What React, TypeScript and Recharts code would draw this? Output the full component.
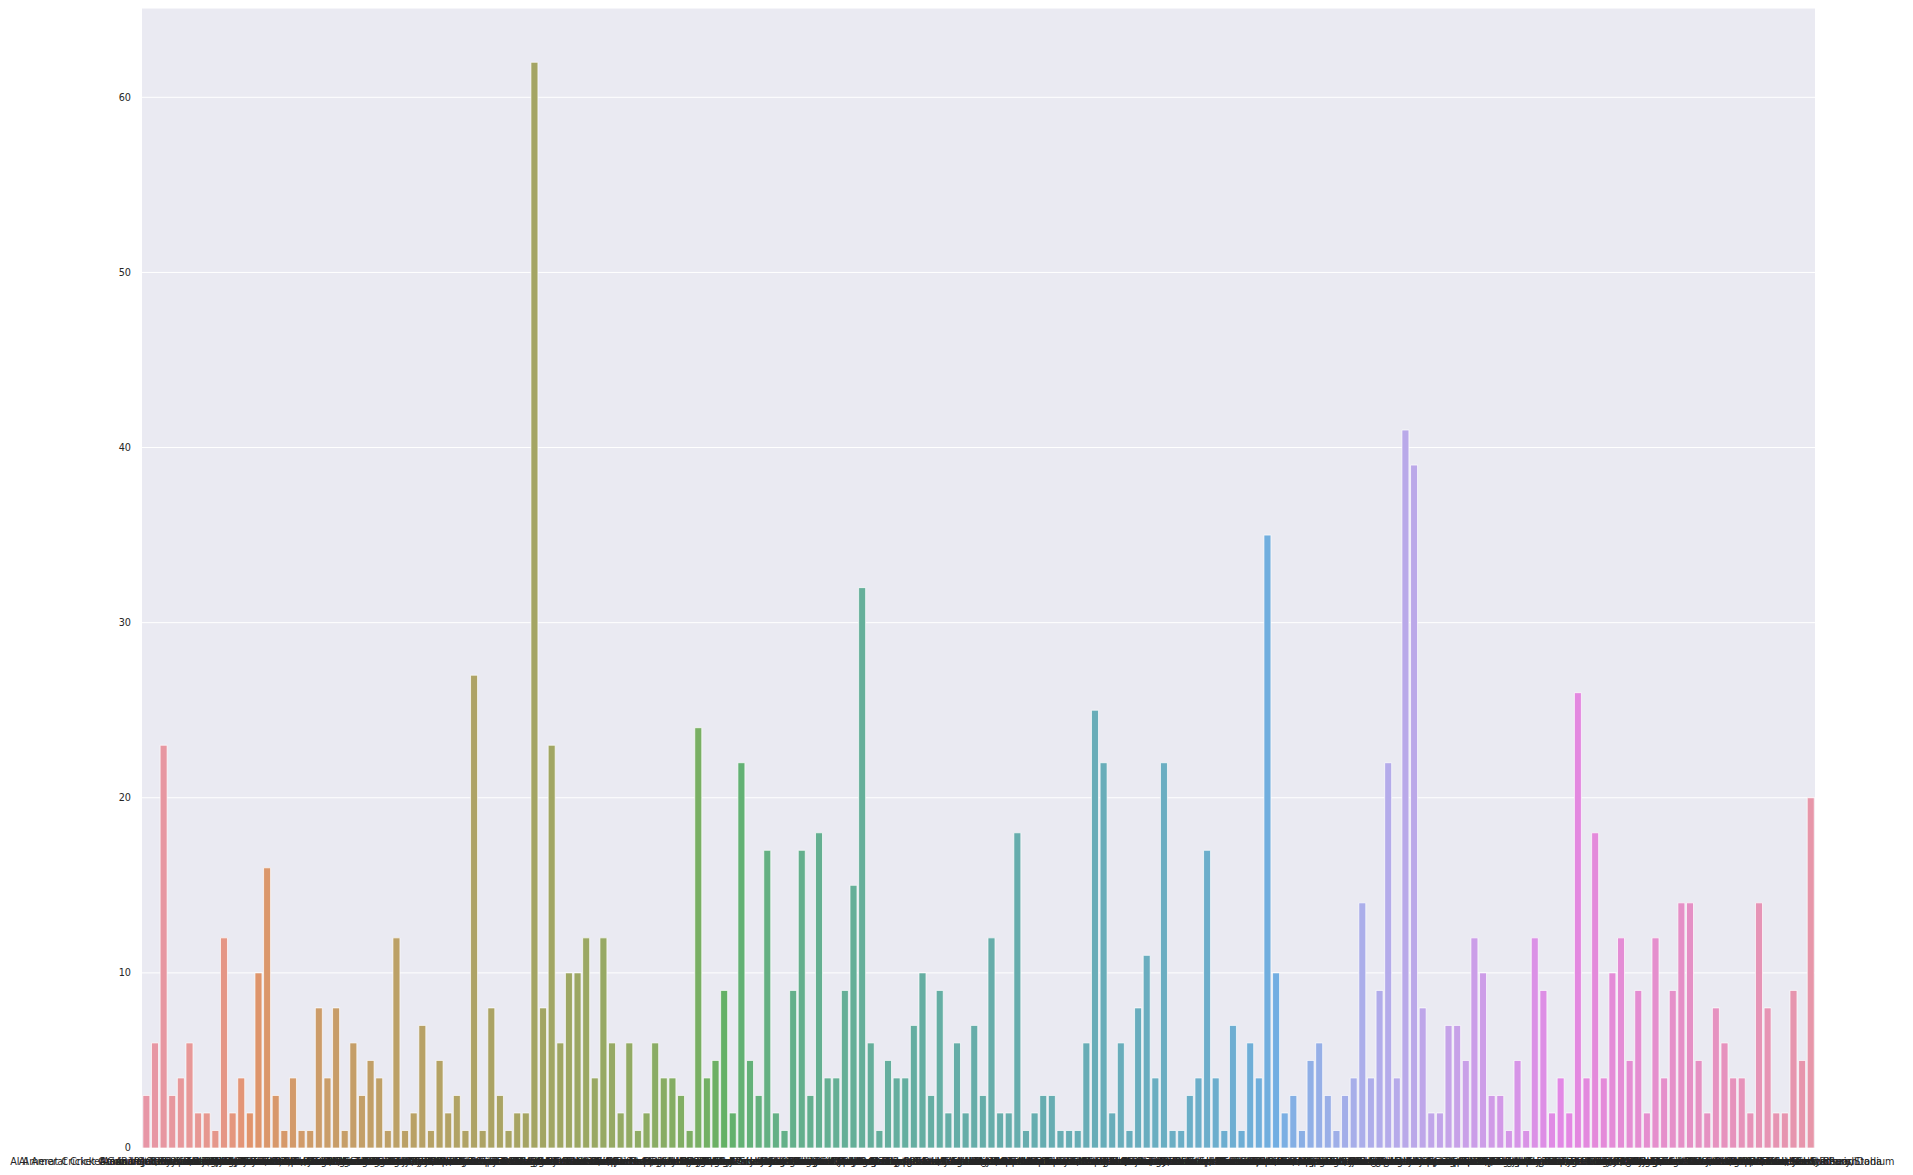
import React from "react";
import { BarChart, Bar, XAxis, YAxis, CartesianGrid, Cell } from "recharts";

const venues: string[] = [
  "Al Amerat Cricket Ground Oman Cricket (Ministry Turf 1)",
  "Al Amerat Cricket Ground Oman Cricket (Ministry Turf 2)",
  "Amini Park, Port Moresby",
  "Arnos Vale Ground, Kingstown",
  "Arun Jaitley Stadium, Delhi",
  "Asian Institute of Technology Ground",
  "Bangabandhu National Stadium",
  "Barabati Stadium",
  "Barsapara Cricket Stadium",
  "Bay Oval",
  "Bayuemas Oval, Kuala Lumpur",
  "Beausejour Stadium, Gros Islet",
  "Bellerive Oval",
  "Bermuda National Stadium",
  "Boland Park",
  "Botswana Cricket Association Oval 1, Gaborone",
  "Brabourne Stadium",
  "Bready Cricket Club, Magheramason",
  "Brian Lara Stadium, Tarouba, Trinidad",
  "Brisbane Cricket Ground, Woolloongabba",
  "Buffalo Park",
  "Bulawayo Athletic Club",
  "Cambusdoon New Ground",
  "Carisbrook",
  "Carrara Oval",
  "Castle Avenue, Dublin",
  "Central Broward Regional Park Stadium Turf Ground",
  "Chilaw Marians Cricket Club Ground",
  "Chittagong Divisional Stadium",
  "Civil Service Cricket Club, Stormont",
  "Clontarf Cricket Club Ground",
  "College Field, St Peter Port",
  "Coolidge Cricket Ground",
  "County Ground, Bristol",
  "County Ground, Chelmsford",
  "County Ground, Taunton",
  "Daren Sammy National Cricket Stadium",
  "De Beers Diamond Oval",
  "Desert Springs Cricket Ground",
  "Docklands Stadium",
  "Dr DY Patil Sports Academy",
  "Dr. Y.S. Rajasekhara Reddy ACA-VDCA Cricket Stadium",
  "Dreux Sport Cricket Club",
  "Dubai International Cricket Stadium",
  "Eden Gardens",
  "Eden Park",
  "Edgbaston",
  "Ekana Cricket Stadium",
  "Entebbe Cricket Oval",
  "Faleata Oval No 2, Apia",
  "Feroz Shah Kotla",
  "Gaddafi Stadium",
  "Gahanga International Cricket Stadium",
  "Galle International Stadium",
  "Grainville, St Saviour",
  "Grange Cricket Club Ground, Raeburn Place",
  "Greater Noida Sports Complex Ground",
  "Green Park",
  "Greenfield International Stadium",
  "Gucherre Cricket Ground",
  "Gymkhana Club Ground",
  "Hagley Oval",
  "Happy Valley Ground",
  "Harare Sports Club",
  "Hazelaarweg",
  "Headingley",
  "Himachal Pradesh Cricket Association Stadium",
  "Holkar Cricket Stadium",
  "Hong Kong Cricket Club",
  "ICC Academy",
  "ICC Global Cricket Academy",
  "Independence Park, Port Vila",
  "Indian Association Ground",
  "Integrated Polytechnic Regional Centre",
  "JSCA International Stadium Complex",
  "Jade Stadium",
  "Junction Oval",
  "Kardinia Park",
  "Kennington Oval",
  "Kensington Oval, Bridgetown",
  "Kerava National Cricket Ground",
  "Khan Shaheb Osman Ali Stadium",
  "King George V Sports Ground, Castel",
  "Kingsmead",
  "Kinrara Academy Oval",
  "Kowloon Cricket Club",
  "Kyambogo Cricket Oval",
  "Lalbhai Contractor Stadium",
  "Lord's",
  "Los Reyes Polo Club, Guacima",
  "Lugogo Stadium",
  "M Chinnaswamy Stadium",
  "MA Chidambaram Stadium, Chepauk",
  "Maharashtra Cricket Association Stadium",
  "Mahinda Rajapaksa International Cricket Stadium",
  "Malahide",
  "Mangaung Oval",
  "Mannofield Park, Aberdeen",
  "Manuka Oval",
  "Marina Ground",
  "Marrara Cricket Ground",
  "Marsa Sports Club",
  "Mayoor School Ground",
  "McLean Park",
  "Melbourne Cricket Ground",
  "Mission Road Ground, Mong Kok",
  "Moara Vlasiei Cricket Ground",
  "Mombasa Sports Club Ground",
  "Mulpani Cricket Ground",
  "Multan Cricket Stadium",
  "Nairobi Gymkhana Club Ground",
  "Narendra Modi Stadium",
  "National Cricket Stadium, Grenada",
  "National Sports Academy, Sofia",
  "National Stadium, Karachi",
  "New Wanderers Stadium",
  "Newlands",
  "Old Trafford",
  "Pallekele International Cricket Stadium",
  "Perth Stadium",
  "Providence Stadium",
  "Punjab Cricket Association Stadium, Mohali",
  "Queen's Park Oval, Port of Spain",
  "Queens Sports Club",
  "R Premadasa Stadium",
  "Rajiv Gandhi International Stadium, Uppal",
  "Rangiri Dambulla International Stadium",
  "Rawalpindi Cricket Stadium",
  "Reforma Athletic Club, Naucalpan",
  "Riverside Ground",
  "Roma Cricket Ground",
  "Rose Bowl",
  "Ruaraka Sports Club Ground",
  "Sabina Park, Kingston",
  "Sano International Cricket Ground",
  "Santarem Cricket Ground, Albergaria",
  "Saurashtra Cricket Association Stadium",
  "Sawai Mansingh Stadium",
  "Saxton Oval",
  "Seddon Park",
  "Seebarn Cricket Ground, Lower Austria",
  "Selangor Turf Club, Kuala Lumpur",
  "Senwes Park",
  "Shaheed Veer Narayan Singh International Stadium",
  "Sharjah Cricket Stadium",
  "Sheikh Abu Naser Stadium",
  "Sheikh Kamal International Cricket Stadium",
  "Sheikh Zayed Stadium",
  "Shere Bangla National Stadium",
  "Simonds Stadium, South Geelong",
  "Singapore National Cricket Ground",
  "Sinhalese Sports Club Ground",
  "Sir Vivian Richards Stadium, North Sound",
  "Sky Stadium, Wellington",
  "Solvangs Park, Glostrup",
  "Sophia Gardens",
  "Sportpark Het Schootsveld",
  "Sportpark Maarschalkerweerd",
  "Sportpark Westvliet",
  "St George's Park",
  "Stadium Australia",
  "Stellenbosch University Ground",
  "Supersport Park",
  "Svanholm Park, Brondby",
  "Sydney Cricket Ground",
  "Sylhet International Cricket Stadium",
  "Takashinga Sports Club, Highfield",
  "Terdthai Cricket Ground, Bangkok",
  "The Grange Club, Edinburgh",
  "The Rose Bowl",
  "The Village, Malahide",
  "Tikkurila Cricket Ground, Vantaa",
  "Titwood, Glasgow",
  "Tolerance Oval",
  "Tony Ireland Stadium",
  "Trent Bridge",
  "Tribhuvan University International Cricket Ground",
  "UKM-YSD Cricket Oval, Bangi",
  "Udayana Cricket Ground",
  "United Cricket Club Ground, Windhoek",
  "University Oval",
  "VRA Ground",
  "Vidarbha Cricket Association Stadium, Jamtha",
  "Wanderers Cricket Ground, Windhoek",
  "Wanderers Stadium",
  "Wankhede Stadium",
  "Warner Park, Basseterre",
  "West End Park International Cricket Stadium, Doha",
  "Westpac Stadium",
  "Westpac Trust Stadium",
  "White Hill Field, Sandys Parish",
  "Willowmoore Park, Benoni",
  "Windsor Park, Roseau",
  "Zahur Ahmed Chowdhury Stadium",
];

const matchCounts: number[] = [
  3, 6, 23, 3, 4, 6, 2, 2, 1, 12, 2, 4, 2, 10, 16, 3, 1, 4, 1, 1,
  8, 4, 8, 1, 6, 3, 5, 4, 1, 12, 1, 2, 7, 1, 5, 2, 3, 1, 27,
  1, 8, 3, 1, 2, 2, 62, 8, 23, 6, 10, 10, 12, 4, 12, 6, 2, 6, 1, 2,
  6, 4, 4, 3, 1, 24, 4, 5, 9, 2, 22, 5, 3, 17, 2, 1, 9, 17, 3, 18,
  4, 4, 9, 15, 32, 6, 1, 5, 4, 4, 7, 10, 3, 9, 2, 6, 2, 7, 3, 12,
  2, 2, 18, 1, 2, 3, 3, 1, 1, 1, 6, 25, 22, 2, 6, 1, 8, 11, 4,
  22, 1, 1, 3, 4, 17, 4, 1, 7, 1, 6, 4, 35, 10, 2, 3, 1, 5, 6, 3,
  1, 3, 4, 14, 4, 9, 22, 4, 41, 39, 8, 2, 2, 7, 7, 5, 12, 10, 3, 3,
  1, 5, 1, 12, 9, 2, 4, 2, 26, 4, 18, 4, 10, 12, 5, 9, 2, 12, 4, 9,
  14, 14, 5, 2, 8, 6, 4, 4, 2, 14, 8, 2, 2, 9, 5, 20,
];

const yTicks: number[] = [0, 10, 20, 30, 40, 50, 60];

// ---- seaborn husl palette + desaturate(0.75), softened over the axes background ----
const M = [
  [3.2406, -1.5372, -0.4986],
  [-0.9689, 1.8758, 0.0415],
  [0.0557, -0.204, 1.057],
];
function maxChroma(L: number, H: number): number {
  const hrad = (H * Math.PI) / 180;
  const sinH = Math.sin(hrad);
  const cosH = Math.cos(hrad);
  const sub1 = Math.pow(L + 16, 3) / 1560896;
  const sub2 = sub1 > 0.008856 ? sub1 : L / 903.3;
  let result = Infinity;
  for (const [m1, m2, m3] of M) {
    const top = (0.99915 * m1 + 1.05122 * m2 + 1.1446 * m3) * sub2;
    const rbottom = 0.8633 * m3 - 0.17266 * m2;
    const lbottom = 0.12949 * m3 - 0.38848 * m1;
    const bottom = (rbottom * sinH + lbottom * cosH) * sub2;
    for (const t of [0, 1]) {
      const C = (L * (top - 1.05122 * t)) / (bottom + 0.17266 * sinH * t);
      if (C > 0 && C < result) result = C;
    }
  }
  return result;
}
function fromLinear(c: number): number {
  return c <= 0.0031308 ? 12.92 * c : 1.055 * Math.pow(c, 1 / 2.4) - 0.055;
}
function huslToRgb(H: number, S: number, L: number): number[] {
  const C = (maxChroma(L, H) / 100) * S;
  const hrad = (H * Math.PI) / 180;
  const U = Math.cos(hrad) * C;
  const V = Math.sin(hrad) * C;
  const t = (L + 16) / 116;
  const varY = Math.pow(t, 3) > 0.008856 ? Math.pow(t, 3) : (116 * t - 16) / 903.3;
  const varU = U / (13 * L) + 0.19784;
  const varV = V / (13 * L) + 0.46834;
  const Y = varY;
  const X = -(9 * Y * varU) / ((varU - 4) * varV - varU * varV);
  const Z = (9 * Y - 15 * varV * Y - varV * X) / (3 * varV);
  return M.map((r) => {
    const val = fromLinear(r[0] * X + r[1] * Y + r[2] * Z);
    return Math.min(1, Math.max(0, val));
  });
}
function rgbToHls(r: number, g: number, b: number): number[] {
  const maxc = Math.max(r, g, b);
  const minc = Math.min(r, g, b);
  const l = (minc + maxc) / 2;
  if (minc === maxc) return [0, l, 0];
  const s = l <= 0.5 ? (maxc - minc) / (maxc + minc) : (maxc - minc) / (2 - maxc - minc);
  const rc = (maxc - r) / (maxc - minc);
  const gc = (maxc - g) / (maxc - minc);
  const bc = (maxc - b) / (maxc - minc);
  let h: number;
  if (r === maxc) h = bc - gc;
  else if (g === maxc) h = 2 + rc - bc;
  else h = 4 + gc - rc;
  h = ((h / 6) % 1 + 1) % 1;
  return [h, l, s];
}
function hv(m1: number, m2: number, hue: number): number {
  hue = ((hue % 1) + 1) % 1;
  if (hue < 1 / 6) return m1 + (m2 - m1) * hue * 6;
  if (hue < 0.5) return m2;
  if (hue < 2 / 3) return m1 + (m2 - m1) * (2 / 3 - hue) * 6;
  return m1;
}
function hlsToRgb(h: number, l: number, s: number): number[] {
  if (s === 0) return [l, l, l];
  const m2 = l <= 0.5 ? l * (1 + s) : l + s - l * s;
  const m1 = 2 * l - m2;
  return [hv(m1, m2, h + 1 / 3), hv(m1, m2, h), hv(m1, m2, h - 1 / 3)];
}
function toHex(rgb: number[]): string {
  return (
    "#" +
    rgb
      .map((c) => Math.round(Math.min(1, Math.max(0, c)) * 255).toString(16).padStart(2, "0"))
      .join("")
  );
}
const AXES_BG = [234 / 255, 234 / 255, 242 / 255];
function palette(n: number): string[] {
  const out: string[] = [];
  for (let i = 0; i < n; i++) {
    const hue = (((i / n) + 0.01) % 1) * 359;
    const rgb = huslToRgb(hue, 0.9 * 99, 0.65 * 99);
    const [h, l, s] = rgbToHls(rgb[0], rgb[1], rgb[2]);
    const d = hlsToRgb(h, l, s * 0.75);
    out.push(toHex(d.map((c, k) => c * 0.8 + AXES_BG[k] * 0.2)));
  }
  return out;
}

const colors = palette(matchCounts.length);
const data = venues.map((venue, i) => ({ venue, count: matchCounts[i] }));

const tickStyle = { fontFamily: "DejaVu Sans", fontSize: 9.7, fill: "#262626" };

export default function App() {
  return (
    <div style={{ position: "absolute", left: 0, top: 0, width: 1913, height: 1175, background: "#fff" }}>
      <BarChart
        width={1913}
        height={1175}
        data={data}
        margin={{ top: 8, right: 98, bottom: 0, left: 0 }}
        barCategoryGap="10%"
        barGap={0}
      >
        <CartesianGrid vertical={false} fill="#EAEAF2" stroke="#ffffff" strokeWidth={1} />
        <XAxis
          dataKey="venue"
          interval={0}
          height={27}
          axisLine={false}
          tickLine={false}
          tickSize={0}
          tickMargin={10}
          tick={tickStyle}
        />
        <YAxis
          width={142}
          domain={[0, 65.1]}
          ticks={yTicks}
          axisLine={false}
          tickLine={false}
          tickSize={0}
          tickMargin={11}
          tick={tickStyle}
        />
        <Bar dataKey="count" isAnimationActive={false} stroke="#ffffff" strokeWidth={0.7}>
          {data.map((d, i) => (
            <Cell key={d.venue} fill={colors[i]} />
          ))}
        </Bar>
      </BarChart>
    </div>
  );
}
